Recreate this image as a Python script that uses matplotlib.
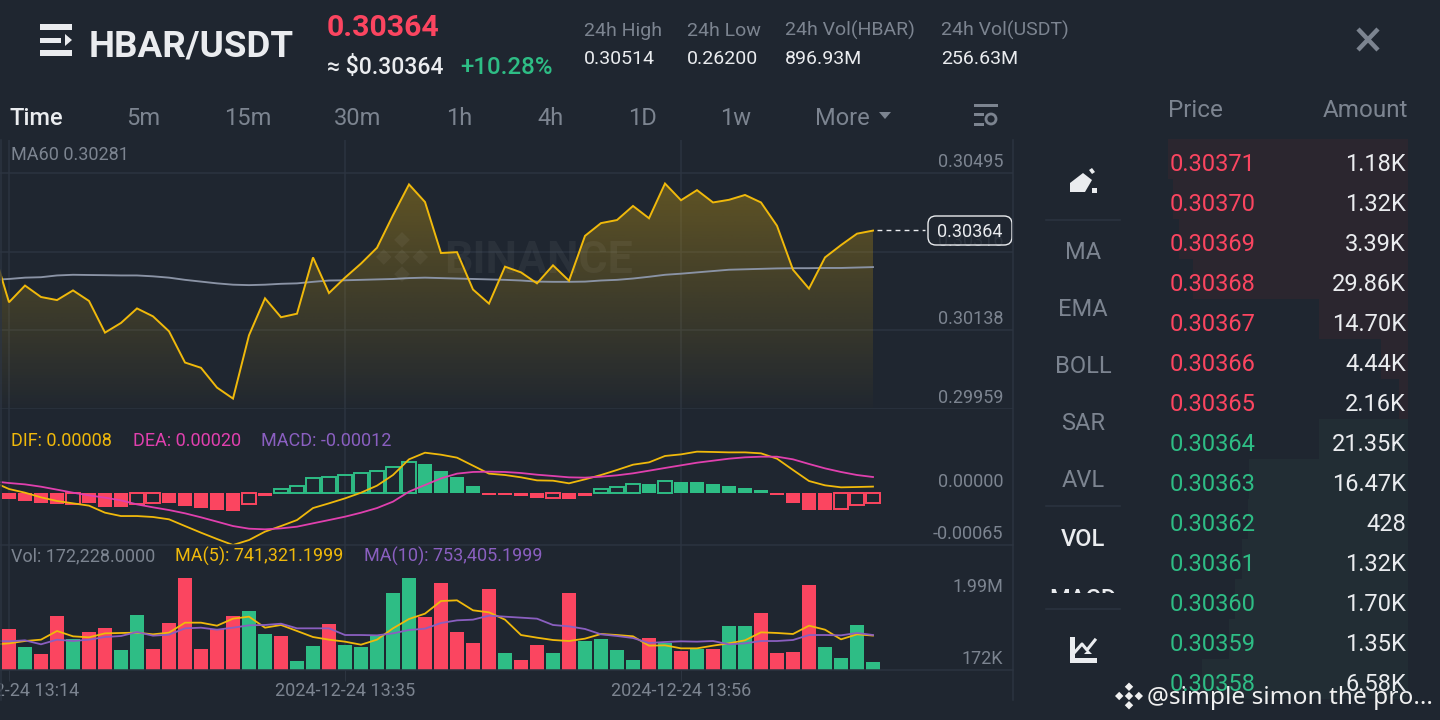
import numpy as np
import matplotlib
matplotlib.use("Agg")
import matplotlib.pyplot as plt
from matplotlib.patches import Polygon, Rectangle, FancyBboxPatch, Circle

plt.rcParams['font.family'] = ['Roboto', 'DejaVu Sans']

BG = '#1f2630'; GRID = '#2c3440'; GREY = '#7c8490'; WHITE = '#eaecef'
RED = '#fb4560'; GREEN = '#2ebd85'; YEL = '#f0b90b'; MAG = '#e040ae'; PUR = '#8a5fc0'; LINE = '#8a93a5'

# candle index runs from -1 (clipped at the left edge) to 54
price = [30322, 30201, 30239, 30213, 30206, 30228, 30204, 30132, 30154, 30187, 30169, 30135, 30064, 30052,
         30007, 29982, 30126, 30210, 30167, 30175, 30303, 30222, 30257, 30289, 30325, 30399, 30469, 30429,
         30313, 30315, 30230, 30198, 30282, 30269, 30244, 30285, 30250, 30352, 30381, 30388, 30420, 30392,
         30471, 30433, 30456, 30428, 30434, 30445, 30428, 30375, 30275, 30232, 30303, 30331, 30357, 30364]
ma60 = [30252, 30254, 30257, 30258, 30262, 30263.5, 30263, 30262.6, 30262, 30262, 30260, 30257, 30252, 30248,
        30244, 30241, 30240, 30241, 30243, 30244, 30247.5, 30250.5, 30251, 30252, 30253, 30254, 30256, 30257,
        30256, 30255, 30254, 30253, 30252, 30250.5, 30248, 30247.5, 30247.5, 30248, 30250.5, 30252, 30255,
        30259, 30263.5, 30266, 30269, 30272, 30275, 30276, 30277, 30278, 30278.5, 30278.5, 30279, 30279, 30280, 30281]
dif = [13.8, 5.0, 0.4, -5.4, -10, -12.9, -15.8, -24.6, -28.8, -28.8, -30, -32.9, -41.3, -49.6, -57.5, -65, -58.8,
       -48.3, -41.3, -33.8, -18.8, -12.9, -6.7, 0.4, 9.2, 22.5, 42.1, 50.4, 47.9, 44.2, 34.2, 24.2, 22.5, 19.6,
       15.8, 15.4, 12.1, 17.1, 22.5, 28.8, 35.4, 38.3, 46.3, 48.3, 51.7, 51.3, 50.8, 50.8, 49.6, 42.9, 28.8, 15,
       9.6, 7.1, 7.5, 8.0]
dea = [14.6, 12.5, 10.8, 7.9, 4.2, 0.4, -2.9, -5.8, -9.2, -14.2, -17.9, -21.3, -25.4, -30.4, -35.8, -41.3, -44.6,
       -45.4, -44.2, -42.1, -37.9, -33.8, -29.6, -24.6, -18.8, -10.8, 1.7, 10, 18.3, 24.2, 26.3, 26.7, 26.3, 25,
       22.9, 21.3, 19.6, 19.2, 20.4, 22.1, 24.6, 27.9, 31.3, 34.6, 37.9, 40.4, 42.9, 44.6, 45.4, 45.4, 42.1, 36.3,
       30.8, 26.3, 22.5, 20.0]
# from index 0
macd = [-7.9, -10, -12.5, -14.2, -13.3, -12.9, -17.1, -17.1, -14.2, -12.9, -12.5, -16.7, -18.8, -21.3, -22.9, -14.2,
        -3.3, 5, 8.3, 18.8, 19.6, 22.1, 24.6, 27.5, 32.5, 38.8, 36.7, 27.1, 19.6, 8.3, -2.1, -2.1, -4.2, -6.3, -6.3,
        -7.1, -3.8, 4.6, 7.9, 11.7, 10.8, 15.4, 13.8, 13.8, 10.8, 8.3, 6.3, 3.8, -2.1, -12.1, -21.3, -21.7, -19.6,
        -15.4, -12]
macd_hollow = [4, 8, 9, 15, 17, 18, 19, 20, 21, 22, 23, 24, 25, 34, 37, 38, 39, 41, 52, 53, 54]
vol = [890, 495, 344, 1163, 667, 811, 911, 423, 1177, 459, 1012, 1973, 445, 883, 1155, 1277, 768, 739, 201, 510, 990,
       538, 495, 739, 1650, 1990, 1148, 1873, 818, 574, 1744, 373, 222, 531, 366, 1650, 624, 675, 423, 215, 689, 588,
       402, 445, 445, 940, 940, 1234, 359, 380, 1837, 488, 266, 962, 172]
vol_side = list("rgrrgrrgg" "rrrrrr" "gg" "r" "gg" "r" "ggggg" "rrrrr" "g" "rr" "g" "r" "gggg" "r" "g" "r" "g" "r" "gg" "rrrr" "ggg" "g")
ma5 = [545, 574, 624, 653, 840, 725, 703, 789, 797, 804, 768, 804, 1019, 1019, 954, 1105, 1148, 911, 969, 840, 710, 653,
       610, 545, 653, 897, 1098, 1213, 1485, 1500, 1285, 1241, 1084, 753, 696, 646, 624, 675, 775, 753, 725, 524, 531,
       466, 466, 524, 574, 639, 811, 797, 775, 954, 868, 660, 768, 741]
ma10 = [631, 617, 639, 553, 653, 624, 653, 710, 732, 818, 739, 761, 897, 911, 868, 911, 962, 969, 997, 897, 897, 897, 753,
        753, 746, 789, 861, 890, 1012, 1069, 1084, 1170, 1148, 1127, 1105, 969, 940, 883, 768, 732, 689, 581, 603, 617,
        610, 624, 553, 574, 624, 624, 646, 753, 753, 746, 797, 753]
price_ticks = [30495, 30316, 30138, 29959]
macd_ticks = [0, -65]
time_ticks = [0, 21, 42]
time_labels = ['2024-12-24 13:14', '2024-12-24 13:35', '2024-12-24 13:56']

ask_prices = ['0.30371', '0.30370', '0.30369', '0.30368', '0.30367', '0.30366', '0.30365']
ask_amounts = ['1.18K', '1.32K', '3.39K', '29.86K', '14.70K', '4.44K', '2.16K']
ask_depth = [240, 235, 229, 215, 89, 27, 9]
bid_prices = ['0.30364', '0.30363', '0.30362', '0.30361', '0.30360', '0.30359', '0.30358']
bid_amounts = ['21.35K', '16.47K', '428', '1.32K', '1.70K', '1.35K', '6.58K']
bid_depth = [89, 159, 160, 166, 173, 179, 206]

W, H = 1440, 720
fig = plt.figure(figsize=(14.4, 7.2), dpi=100, facecolor=BG)

def frame(x0, y0, x1, y1):
    return [x0 / W, 1 - y1 / H, (x1 - x0) / W, (y1 - y0) / H]

idx = np.arange(-1, 55)
idx0 = np.arange(0, 55)
XLIM = (-9 / 16, (1013 - 9) / 16)
AXFS = 13

def base(ax):
    ax.set_facecolor('none')
    ax.set_xlim(*XLIM)
    for s in ax.spines.values():
        s.set_visible(False)
    ax.set_xticks(time_ticks)
    ax.xaxis.grid(True, color=GRID, lw=1.1, zorder=0)
    ax.yaxis.grid(True, color=GRID, lw=1.1, zorder=0)
    ax.set_axisbelow(True)
    ax.tick_params(length=0, labelbottom=False, labelleft=False)

# price panel
ax = fig.add_axes(frame(0, 140, 1013, 408.7))
base(ax)
p = np.array(price) * 1e-5
ax.set_ylim(0.29959, 0.30570)
ax.set_yticks(np.array(price_ticks) * 1e-5)
poly = ax.fill_between(idx, p, 0.29959, color='none')
grad = np.zeros((256, 2, 4))
grad[..., :3] = matplotlib.colors.to_rgb(YEL)
grad[..., 3] = np.linspace(0.31, 0.01, 256)[:, None]
top = max(p)
im = ax.imshow(grad, extent=(XLIM[0], 54, 0.29959, top), aspect='auto', origin='upper', zorder=1)
im.set_clip_path(poly.get_paths()[0], transform=ax.transData)
ax.set_xlim(*XLIM); ax.set_ylim(0.29959, 0.30570)
ax.text(0.438, 0.55, 'BINANCE', transform=ax.transAxes, fontsize=32, fontweight='bold', color='#ffffff', alpha=0.05,
        ha='left', va='center', zorder=2)
ax.plot(idx, np.array(ma60) * 1e-5, color=LINE, lw=1.35, zorder=3)
ax.plot(idx, p, color=YEL, lw=1.4, zorder=4, solid_joinstyle='miter')
for v in price_ticks:
    ax.annotate(f'{v / 1e5:.5f}', xy=(1003 / 1013, v * 1e-5), xycoords=('axes fraction', 'data'), xytext=(0, 8),
                textcoords='offset points', ha='right', va='center', color=GREY, fontsize=AXFS, zorder=5,
                annotation_clip=False)

# macd panel
ax2 = fig.add_axes(frame(0, 408.7, 1013, 545))
base(ax2)
ax2.set_ylim(-65e-5, 105.4e-5)
ax2.set_yticks(np.array(macd_ticks) * 1e-5)
ax2.yaxis.grid(False)
m = np.array(macd) * 1e-5
hollow = np.isin(idx0, macd_hollow)
colors = [GREEN if v > 0 else RED for v in m]
ax2.bar(idx0[~hollow], m[~hollow], width=0.875, color=np.array(colors)[~hollow], zorder=2)
ax2.bar(idx0[hollow], m[hollow], width=0.85, facecolor='none', edgecolor=np.array(colors)[hollow], lw=1.4, zorder=2)
ax2.plot(idx, np.array(dif) * 1e-5, color=YEL, lw=1.3, zorder=3)
ax2.plot(idx, np.array(dea) * 1e-5, color=MAG, lw=1.3, zorder=3)
for v in macd_ticks:
    ax2.annotate(f'{v / 1e5:.5f}', xy=(1003 / 1013, v * 1e-5), xycoords=('axes fraction', 'data'), xytext=(0, 8),
                 textcoords='offset points', ha='right', va='center', color=GREY, fontsize=AXFS, zorder=5,
                 annotation_clip=False)

# volume panel
ax3 = fig.add_axes(frame(0, 545, 1013, 670))
base(ax3)
ax3.yaxis.grid(False)
ax3.set_ylim(0, 2691)
ax3.set_yticks([])
ax3.spines['top'].set_visible(True); ax3.spines['top'].set_color(GRID); ax3.spines['top'].set_linewidth(1.1)
ax3.spines['bottom'].set_visible(True); ax3.spines['bottom'].set_color(GRID); ax3.spines['bottom'].set_linewidth(1.1)
ax3.bar(idx0, vol, width=0.875, color=[RED if s == 'r' else GREEN for s in vol_side], zorder=2)
ax3.plot(idx, ma5, color=YEL, lw=1.3, zorder=3)
ax3.plot(idx, ma10, color=PUR, lw=1.3, zorder=3)
ax3.set_xticks(time_ticks, time_labels)
ax3.tick_params(axis='x', labelbottom=True, length=8, color=GRID, labelcolor=GREY, labelsize=AXFS, pad=0.5)
for lab, v, dy in [('1.99M', 1990, -7), ('172K', 0, 8)]:
    ax3.annotate(lab, xy=(1003 / 1013, v), xycoords=('axes fraction', 'data'), xytext=(0, dy),
                 textcoords='offset points', ha='right', va='center', color=GREY, fontsize=AXFS, zorder=5,
                 annotation_clip=False)

# order book depth
bk = fig.add_axes(frame(1168, 139, 1408, 699))
bk.set_axis_off()
bk.set_xlim(240, 0)
bk.set_ylim(14, 0)
bk.barh(np.arange(7) + 0.5, ask_depth, height=1, color='#2b262f')
bk.barh(np.arange(7, 14) + 0.5, bid_depth, height=1, color='#222d34')

# overlay for the interface
ui = fig.add_axes([0, 0, 1, 1])
ui.set_xlim(0, W); ui.set_ylim(H, 0); ui.set_axis_off()
ui.patch.set_alpha(0)

def T(x, y, s, c=GREY, fs=13, ha='left', w='normal', **k):
    return ui.text(x, y + 1.5, s, color=c, fontsize=fs, ha=ha, va='center', fontweight=w, **k)

def R(x0, y0, x1, y1, c=WHITE, **k):
    ui.add_patch(Rectangle((x0, y0), x1 - x0, y1 - y0, facecolor=c, edgecolor='none', **k))

def logo(cx, cy, r, c, alpha=1.0):
    s = r * 0.3
    for dx, dy in [(0, -0.66 * r), (0, 0.66 * r), (-0.7 * r, 0), (0.7 * r, 0), (0, 0)]:
        ui.add_patch(Polygon([(cx + dx, cy + dy - s), (cx + dx + s, cy + dy), (cx + dx, cy + dy + s), (cx + dx - s, cy + dy)],
                             facecolor=c, edgecolor='none', alpha=alpha))

# right border of the chart
ui.plot([1013, 1013], [140, 700], color=GRID, lw=1.1)
ui.plot([0.5, 0.5], [140, 700], color=GRID, lw=1.1)

# header
R(40, 24, 72, 29.5); R(40, 37.5, 61, 43); R(40, 50, 72, 56)
ui.add_patch(Polygon([(65, 34), (72, 40), (65, 46)], facecolor=WHITE, edgecolor='none'))
T(89, 45, 'HBAR/USDT', WHITE, 26.5, w='bold')
T(327, 27, '0.30364', RED, 21.8, w='bold')
T(327, 66, '≈ $0.30364', WHITE, 16.5, w='medium')
T(460, 66, '+10.28%', GREEN, 17.3, w='medium')
for x, a, b in [(584, '24h High', '0.30514'), (687, '24h Low', '0.26200'),
                (785, '24h Vol(HBAR)', '896.93M'), (941, '24h Vol(USDT)', '256.63M')]:
    T(x, 29, a, GREY, 14)
    T(x, 57, b, WHITE, 14)
ui.plot([1358, 1378], [29, 50], color=GREY, lw=3.2, solid_capstyle='butt')
ui.plot([1378, 1358], [29, 50], color=GREY, lw=3.2, solid_capstyle='butt')

# interval bar
T(10, 117, 'Time', WHITE, 17, w='medium')
for x, s in [(143, '5m'), (248, '15m'), (358, '30m'), (459, '1h'), (551, '4h'), (642, '1D'), (736, '1w')]:
    T(x, 117, s, GREY, 17, ha='center')
T(815, 117, 'More', GREY, 17)
ui.add_patch(Polygon([(879, 112), (891, 112), (885, 119)], facecolor=GREY, edgecolor='none'))
R(974, 104, 998, 106.5, GREY); R(974, 113, 984, 115.5, GREY); R(974, 123, 984, 125.5, GREY)
ui.add_patch(Circle((991, 119), 5, facecolor='none', edgecolor=GREY, lw=2))

# legends
T(11, 153, 'MA60 0.30281', GREY, AXFS)
T(11, 439, 'DIF: 0.00008', YEL, AXFS)
T(133, 439, 'DEA: 0.00020', MAG, AXFS)
T(261, 439, 'MACD: -0.00012', PUR, AXFS)
T(11, 554.5, 'Vol: 172,228.0000', GREY, AXFS)
T(175, 554.5, 'MA(5): 741,321.1999', YEL, AXFS)
T(364, 554.5, 'MA(10): 753,405.1999', PUR, AXFS)

# last price marker
ui.plot([877, 925], [230, 230], color=WHITE, lw=1, dashes=(3.5, 3))
ui.add_patch(FancyBboxPatch((928, 216), 84, 29, boxstyle='round,pad=0,rounding_size=8', facecolor=BG, alpha=0.85,
                            edgecolor='none'))
ui.add_patch(FancyBboxPatch((928, 216), 84, 29, boxstyle='round,pad=0,rounding_size=8', facecolor='none',
                            edgecolor=WHITE, lw=1))
T(1003, 230.5, '0.30364', WHITE, AXFS, ha='right')

# watermark logo
logo(402, 257, 26, '#ffffff', 0.05)

# tools column
for y in (220, 506, 609):
    ui.plot([1046, 1120], [y, y], color=GRID, lw=1.1)
for y, s in [(251, 'MA'), (308, 'EMA'), (365, 'BOLL'), (422, 'SAR'), (479, 'AVL')]:
    T(1083, y, s, GREY, 17, ha='center')
T(1083, 538, 'VOL', WHITE, 17, ha='center', w='medium')
t = T(1083, 598, 'MACD', WHITE, 17, ha='center', w='medium')
t.set_clip_on(True)
t.set_clip_path(Rectangle((1040, 580), 90, 13, transform=ui.transData))
ui.add_patch(Polygon([(1070, 183), (1070, 192), (1085, 192), (1092, 180), (1083, 173)], facecolor=WHITE, edgecolor='none'))
ui.add_patch(Polygon([(1089, 170), (1092, 168), (1095, 172), (1092, 174)], facecolor=WHITE, edgecolor='none'))
R(1092, 188, 1097, 193, WHITE)
R(1070, 637, 1075, 663, WHITE); R(1070, 658, 1097, 663, WHITE)
ui.plot([1074, 1082, 1087, 1095], [653, 644, 650, 640], color=WHITE, lw=2.2)
ui.add_patch(Polygon([(1084, 654), (1088, 650), (1092, 654)], facecolor=WHITE, edgecolor='none'))

# order book text
T(1168, 109, 'Price', GREY, 17.5)
T(1408, 109, 'Amount', GREY, 17.5, ha='right')
for k, (a, b) in enumerate(zip(ask_prices, ask_amounts)):
    T(1170, 163 + 40 * k, a, RED, 17)
    T(1406, 163 + 40 * k, b, WHITE, 17, ha='right')
for k, (a, b) in enumerate(zip(bid_prices, bid_amounts)):
    T(1170, 443 + 40 * k, a, GREEN, 17)
    T(1406, 443 + 40 * k, b, WHITE, 17, ha='right')

# attribution
logo(1129, 696, 14, '#f0f0f0')
T(1147, 696.5, '@simple simon the pro...', '#f0f0f0', 17.6, family=['Noto Sans', 'DejaVu Sans'])

fig.savefig('out.png', dpi=100, facecolor=BG)
